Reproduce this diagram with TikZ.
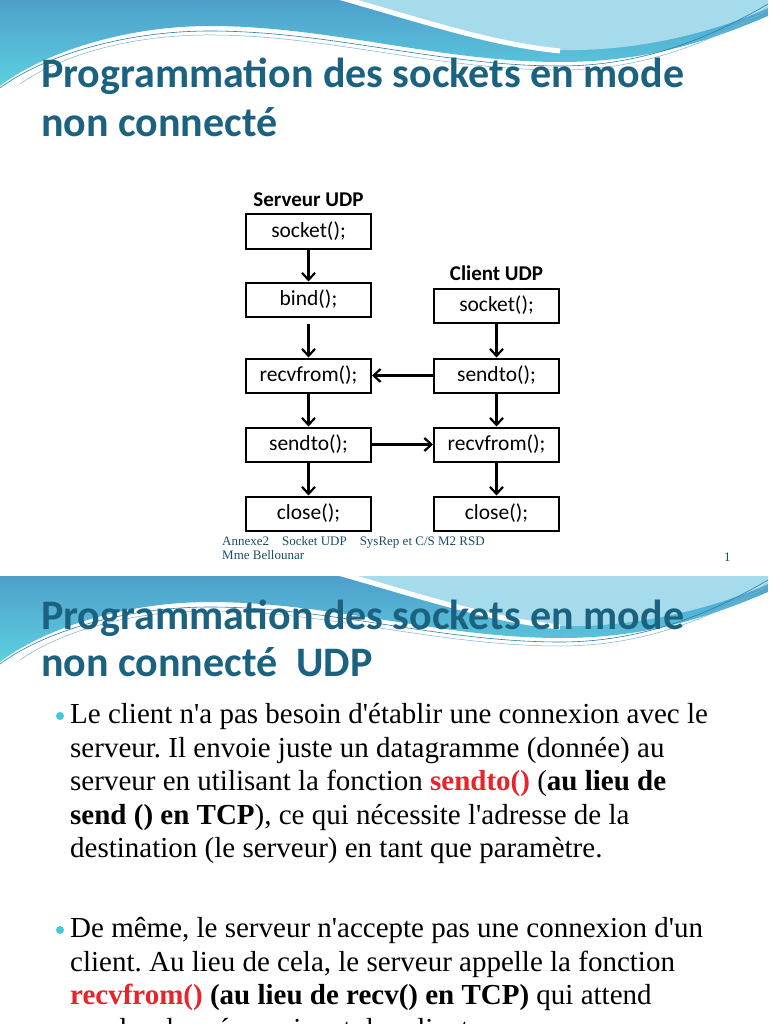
\documentclass[tikz,border=0pt]{standalone}
\usepackage{fontspec}
\setmainfont{Liberation Serif}
\newfontfamily\calibri{Carlito}
\usetikzlibrary{arrows.meta,positioning,calc}
\definecolor{titleteal}{HTML}{1B6280}
\definecolor{footteal}{HTML}{1A4E66}
\definecolor{waveblue}{HTML}{4E9FCB}
\definecolor{wavecyan}{HTML}{5DD0E0}
\definecolor{wavelight}{HTML}{A5DBEB}
\definecolor{waveline}{HTML}{2A7FA8}
\definecolor{bulletcyan}{HTML}{3FC9DA}
\definecolor{fnred}{HTML}{E8232A}
\tikzset{
  udp/call/.style={draw, line width=2pt, minimum width=125pt, minimum height=34pt, inner sep=0pt, font=\calibri\fontsize{21.5}{24}\selectfont},
  udp/head/.style={font=\calibri\bfseries\fontsize{21}{24}\selectfont, inner sep=1pt},
  udp/flow/.style={line width=2.2pt, -{Straight Barb[length=7pt,width=13pt,line width=2.2pt]}},
  slide/title/.style={anchor=base west, inner sep=0pt, text=titleteal, font=\calibri\bfseries\fontsize{42}{48}\selectfont},
  slide/line/.style={anchor=base west, inner sep=0pt, font=\fontsize{29}{34}\selectfont},
  slide/foot/.style={anchor=base west, inner sep=0pt, text=footteal, font=\fontsize{13}{15}\selectfont},
  slide/bullet/.style={circle, fill=bulletcyan, minimum size=8pt, inner sep=0pt}
}
\newcommand{\fn}[1]{\textcolor{fnred}{\textbf{#1}}}
\newcommand{\apos}{\textquotesingle}
\frenchspacing
% bandeau du haut de chaque diapositive
\newcommand{\slidewave}[1]{%
  \begin{scope}[shift={(0,#1)}]
    \shade[top color=waveblue, bottom color=wavecyan]
      (0,0) -- (768,0) -- (768,16) .. controls (700,45) and (640,62) .. (560,62)
      .. controls (440,62) and (330,26) .. (210,26) .. controls (120,26) and (40,55) .. (0,86) -- cycle;
    \fill[wavelight] (350,0) .. controls (420,22) and (490,45) .. (560,50)
      .. controls (640,52) and (720,30) .. (768,8) -- (768,0) -- cycle;
    \draw[white, line width=5pt] (338,-3) .. controls (420,20) and (490,44) .. (560,51);
    \draw[waveline, line width=0.6pt] (0,88) .. controls (40,58) and (120,31) .. (210,31)
      .. controls (330,31) and (440,66) .. (560,66) .. controls (650,66) and (720,32) .. (768,4);
    \draw[waveline!60, line width=0.5pt] (20,84) .. controls (60,56) and (130,34) .. (215,35)
      .. controls (330,36) and (440,70) .. (560,70) .. controls (650,70) and (715,38) .. (768,10);
  \end{scope}}

\begin{document}
\begin{tikzpicture}[x=1pt, y=-1pt]
  \useasboundingbox (0,0) rectangle (768,1024);
  \fill[white] (0,0) rectangle (768,1024);
  \begin{scope}
    \clip (0,0) rectangle (768,1024);

    % diapositive 1
    \slidewave{0}
    \node[slide/title] (t1a) at (41,88) {Programmation des sockets en mode};
    \node[slide/title] (t1b) at (41,137) {non connecté};

    \node[udp/call] (ssock) at (308.5,231.5) {socket();};
    \node[udp/call, below=32pt of ssock] (sbind) {bind();};
    \node[udp/call, below=40pt of sbind] (srecv) {recvfrom();};
    \node[udp/call, below=33pt of srecv] (ssend) {sendto();};
    \node[udp/call, below=33pt of ssend] (sclose) {close();};
    \node[udp/call, right=61pt of srecv] (csend) {sendto();};
    \node[udp/call, above=34pt of csend] (csock) {socket();};
    \node[udp/call, below=33pt of csend] (crecv) {recvfrom();};
    \node[udp/call, below=33pt of crecv] (cclose) {close();};
    \node[udp/head, above=6pt of ssock] (shead) {Serveur UDP};
    \node[udp/head, above=6pt of csock] (chead) {Client UDP};

    \draw[udp/flow] (ssock) -- (sbind);
    \draw[udp/flow, shorten <=6pt] (sbind) -- (srecv);
    \draw[udp/flow] (srecv) -- (ssend);
    \draw[udp/flow] (ssend) -- (sclose);
    \draw[udp/flow] (csock) -- (csend);
    \draw[udp/flow] (csend) -- (crecv);
    \draw[udp/flow] (crecv) -- (cclose);
    \draw[udp/flow] (csend) -- (srecv);
    \draw[udp/flow] (ssend) -- (crecv);

    \node[slide/foot] (f1) at (222,545) {Annexe2\quad Socket UDP\quad SysRep et C/S M2 RSD};
    \node[slide/foot] (f2) at (222,559) {Mme Bellounar};
    \node[slide/foot] (pg) at (724,561) {1};

    % diapositive 2
    \slidewave{576}
    \node[slide/title] (t2a) at (41,629) {Programmation des sockets en mode};
    \node[slide/title] (t2b) at (41,676) {non connecté\ \ UDP};

    \node[slide/bullet] (b1) at (60,716) {};
    \node[slide/line] (l1) at (70,723) {Le client n\apos a pas besoin d\apos établir une connexion avec le};
    \node[slide/line] (l2) at (70,757) {serveur. Il envoie juste un datagramme (donnée) au};
    \node[slide/line] (l3) at (70,790) {serveur en utilisant la fonction \fn{sendto()} (\textbf{au lieu de}};
    \node[slide/line] (l4) at (70,824) {\textbf{send () en TCP}), ce qui nécessite l\apos adresse de la};
    \node[slide/line] (l5) at (70,857) {destination (le serveur) en tant que paramètre.};

    \node[slide/bullet] (b2) at (60,930) {};
    \node[slide/line] (m1) at (70,937) {De même, le serveur n\apos accepte pas une connexion d\apos un};
    \node[slide/line] (m2) at (70,971) {client. Au lieu de cela, le serveur appelle la fonction};
    \node[slide/line] (m3) at (70,1004) {\fn{recvfrom()} \textbf{(au lieu de recv() en TCP)} qui attend};
    \node[slide/line] (m4) at (70,1038) {que les données arrivent des clients.};
  \end{scope}
\end{tikzpicture}
\end{document}
